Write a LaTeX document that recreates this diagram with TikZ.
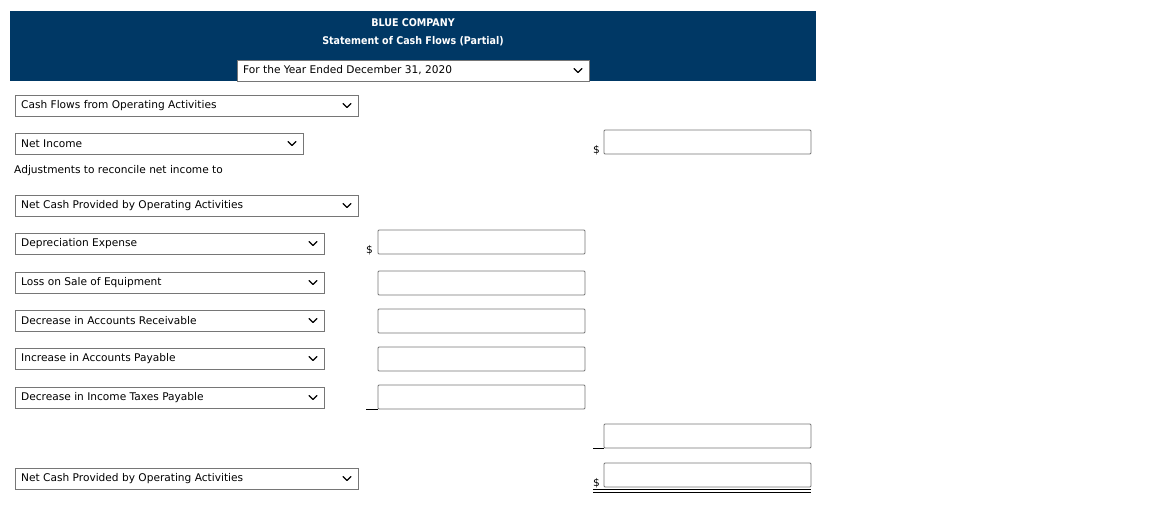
\documentclass[tikz,border=0pt]{standalone}
\usepackage{fontspec}
\setmainfont{DejaVu Sans}
\newfontfamily\hdfont{DejaVu Sans Condensed}
\definecolor{navy}{HTML}{003865}
\definecolor{bord}{HTML}{767676}
\begin{document}
\begin{tikzpicture}[x=1pt,y=-1pt,
  dd/.style={draw=bord,fill=white,line width=0.8pt},
  inp/.style={draw=bord,fill=white,line width=0.8pt,rounded corners=1pt},
  lbl/.style={anchor=west,inner sep=0pt,font=\fontsize{10.6}{12}\selectfont},
  chev/.style={line width=1.3pt,line cap=round,line join=round}]
\useasboundingbox (0,0) rectangle (1150,508);
\fill[navy] (10,11) rectangle (816,81);
\node[text=white,font=\hdfont\bfseries\fontsize{10.6}{12}\selectfont] (t1) at (413,23) {BLUE COMPANY};
\node[text=white,font=\hdfont\bfseries\fontsize{10.6}{12}\selectfont] (t2) at (413,41) {Statement of Cash Flows (Partial)};
\newcommand\dropd[5]{% name x1 x2 y text
  \draw[dd] (#2,#4) rectangle (#3,#4+21);
  \node[lbl] (#1) at (#2+6,#4+10.5) {#5};
  \draw[chev] (#3-15,#4+8.5) -- (#3-11,#4+12.5) -- (#3-7,#4+8.5);}
\dropd{yr}{237}{589}{60}{For the Year Ended December 31, 2020}
\dropd{d1}{15}{358}{95}{Cash Flows from Operating Activities}
\dropd{d2}{15}{303}{133}{Net Income}
\node[lbl] (adj) at (14,171) {Adjustments to reconcile net income to};
\dropd{d3}{15}{358}{195}{Net Cash Provided by Operating Activities}
\dropd{d4}{15}{324}{233}{Depreciation Expense}
\dropd{d5}{15}{324}{272}{Loss on Sale of Equipment}
\dropd{d6}{15}{324}{310}{Decrease in Accounts Receivable}
\dropd{d7}{15}{324}{348}{Increase in Accounts Payable}
\dropd{d8}{15}{324}{387}{Decrease in Income Taxes Payable}
\dropd{d9}{15}{358}{468}{Net Cash Provided by Operating Activities}
% column 1 inputs
\foreach \y/\n in {230/a1,271/a2,309/a3,347/a4,385/a5}
  \draw[inp] (378,\y) rectangle (585,\y+24);
\node[lbl,anchor=base west] (s1) at (366,253) {\$};
\draw[line width=1pt] (366,409) -- (378,409);
% column 2
\foreach \y in {130,424,463}
  \draw[inp] (604,\y) rectangle (811,\y+24);
\node[lbl,anchor=base west] (s2) at (593,153) {\$};
\draw[line width=1pt] (593,448) -- (604,448);
\node[lbl,anchor=base west] (s3) at (593,486) {\$};
\draw[line width=1pt] (593,489) -- (811,489);
\draw[line width=1pt] (593,492) -- (811,492);
\end{tikzpicture}
\end{document}
